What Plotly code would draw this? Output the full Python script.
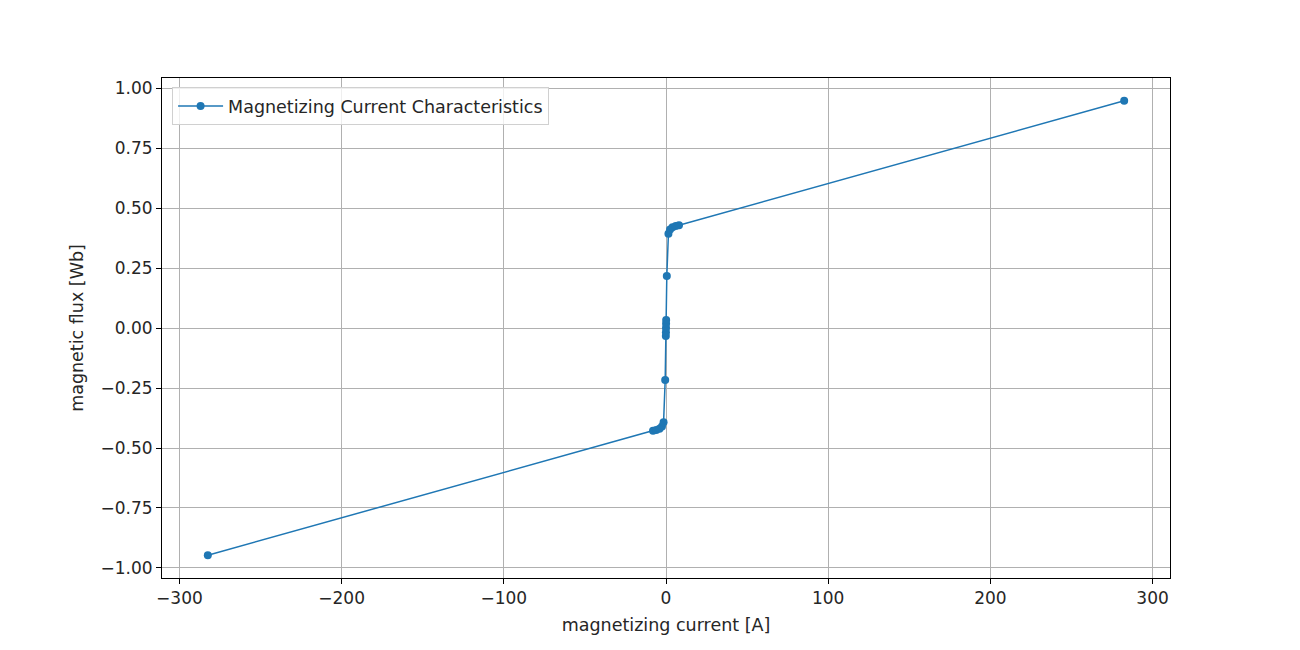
import plotly.graph_objects as go

current = [-282.5, -8.0, -6.0, -4.0, -2.5, -1.5, -0.5, -0.1, -0.05, 0.0, 0.05, 0.1, 0.5, 1.5, 2.5, 4.0, 6.0, 8.0, 282.5]
flux = [-0.947, -0.428, -0.425, -0.42, -0.41, -0.393, -0.217, -0.033, -0.018, 0.0, 0.018, 0.033, 0.217, 0.393, 0.41, 0.42, 0.425, 0.428, 0.947]

x_ticks = [-300, -200, -100, 0, 100, 200, 300]
y_ticks = [-1.0, -0.75, -0.5, -0.25, 0.0, 0.25, 0.5, 0.75, 1.0]

fig = go.Figure()
fig.add_trace(go.Scatter(
    x=current, y=flux, mode="lines+markers",
    name="Magnetizing Current Characteristics",
    line=dict(color="#1f77b4", width=1.5),
    marker=dict(color="#1f77b4", size=8),
))

tick_font = dict(family="DejaVu Sans", size=17, color="#262626")
font = dict(family="DejaVu Sans", size=17.5, color="#262626")
axis_common = dict(
    showline=True, linecolor="black", linewidth=1, mirror=True,
    ticks="outside", ticklen=5, tickcolor="black", tickwidth=1,
    showgrid=True, gridcolor="#b0b0b0", gridwidth=1,
    zeroline=False, tickfont=tick_font,
)
fig.update_layout(
    width=1300, height=650,
    margin=dict(l=162, r=130, t=78, b=72),
    plot_bgcolor="white", paper_bgcolor="white",
    font=font,
    showlegend=True,
    legend=dict(x=0.01, y=0.982, xanchor="left", yanchor="top",
                bgcolor="rgba(255,255,255,0.8)", bordercolor="#d0d0d0", borderwidth=1,
                itemwidth=45, font=font),
    xaxis=dict(range=[-310.75, 310.75], tickvals=x_ticks,
               ticktext=[("\u2212" + str(-v)) if v < 0 else str(v) for v in x_ticks],
               title=dict(text="magnetizing current [A]", font=font, standoff=11),
               **axis_common),
    yaxis=dict(range=[-1.0417, 1.0417], tickvals=y_ticks,
               ticktext=[("\u2212%.2f" % -v) if v < 0 else "%.2f" % v for v in y_ticks],
               title=dict(text="magnetic flux [Wb]", font=font, standoff=12),
               **axis_common),
)
fig.write_html("out.html")
